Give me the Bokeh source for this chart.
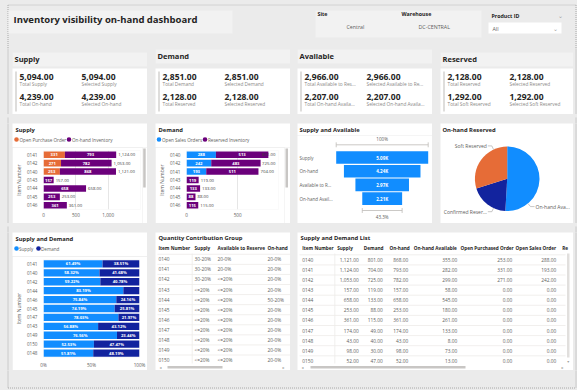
import math
from bokeh.plotting import figure
from bokeh.models import (Range1d, FactorRange, Spacer, ColumnDataSource, FixedTicker, NumeralTickFormatter)
from bokeh.layouts import column, row
from bokeh.core.properties import value
from bokeh.embed import file_html
from bokeh.resources import INLINE

FONT = "Open Sans"
PAGE_BG = "#EBEBEB"
PANEL_BG = "#F2F2F2"
DARK = "#252423"
GRAY = "#605E5C"
SOFT = "#8A8886"
LIGHT = "#A19F9D"
BORDER = "#A8A8A8"
SCROLL = "#C8C6C4"
ORANGE = "#E66C37"
PURPLE = "#6B007B"
BLUE = "#118DFF"
NAVY = "#12239E"
GRID = "#E6E6E6"
SEP = "#EDEBE9"

# ---------------- data ----------------
dashboard_title = "Inventory visibility on-hand dashboard"
slicer_names = ["Site", "Warehouse", "Product ID"]
slicer_values = ["Central", "DC-CENTRAL", "All"]

kpi_groups = ["Supply", "Demand", "Available", "Reserved"]
kpi_supply = [5094.0, 5094.0, 4239.0, 4239.0]
kpi_demand = [2851.0, 2851.0, 2128.0, 2128.0]
kpi_available = [2966.0, 2966.0, 2207.0, 2207.0]
kpi_reserved = [2128.0, 2128.0, 1292.0, 1292.0]
kpi_supply_labels = ["Total Supply", "Selected Supply", "Total On-hand", "Selected On-hand"]
kpi_demand_labels = ["Total Demand", "Selected Demand", "Total Reserved", "Selected Reserved"]
kpi_available_labels = ["Total Available to Res...", "Selected Available to Re...",
                        "Total On-hand Availa...", "Selected On-hand Availa..."]
kpi_reserved_labels = ["Total Reserved", "Selected Reserved", "Total Soft Reserved", "Selected Soft Reserved"]

items = ["0140", "0141", "0142", "0143", "0144", "0145", "0146", "0147", "0148", "0149", "0150"]
supply = [1121, 1124, 1053, 157, 658, 253, 361, 174, 43, 98, 52]
demand = [801, 704, 725, 119, 133, 88, 115, 49, 40, 30, 47]
on_hand = [868, 793, 782, 157, 658, 253, 361, 174, 43, 98, 52]
on_hand_available = [355, 282, 299, 58, 545, 180, 261, 133, 8, 73, 13]
open_purchase_order = [253, 331, 271, 0, 0, 0, 0, 0, 0, 0, 0]
open_sales_order = [288, 193, 242, 0, 0, 0, 0, 0, 0, 0, 0]
reserved_inventory = [513, 511, 483, 119, 133, 88, 115, 49, 40, 30, 47]

supply_chart_items = ["0141", "0142", "0140", "0143", "0144", "0145", "0146"]
demand_chart_items = ["0140", "0142", "0141", "0143", "0144", "0145", "0146"]
sd_chart_items = ["0141", "0140", "0142", "0144", "0146", "0145", "0147", "0143", "0149", "0150", "0148"]

funnel_stages = ["Supply", "On-hand", "Available to R...", "On-hand Avail..."]
funnel_values = [5094, 4239, 2966, 2207]

pie_labels = ["On-hand Ava...", "Confirmed Reser...", "Soft Reserved"]
pie_values = [2207, 836, 1292]
pie_label_angles = [140, 205, 335]

qc_supply = ["30-20%", "30-20%", "30-20%", "<=20%", "<=20%", "<=20%", "<=20%", "<=20%", "<=20%", "<=20%", "<=20%"]
qc_available = ["20-0%", "20-0%", "<=20%", "<=20%", "<=20%", "<=20%", "<=20%", "<=20%", "<=20%", "<=20%", "<=20%"]
qc_on_hand = ["20-0%", "20-0%", "20-0%", "20-0%", "50-20%", "20-0%", "20-0%", "20-0%", "20-0%", "20-0%", "20-0%"]

idx = {it: i for i, it in enumerate(items)}


def nfmt(v):
    return f"{v:,.2f}"


def pix_fig(w, h, bg="white"):
    p = figure(width=w, height=h, x_range=Range1d(0, w), y_range=Range1d(h, 0),
               output_backend="svg", toolbar_location=None, min_border=0,
               x_axis_type=None, y_axis_type=None, frame_align=False)
    p.outline_line_color = None
    p.background_fill_color = bg
    p.border_fill_color = bg
    return p


def put(p, x, y, t, size, color=DARK, bold=False, align="left", font=FONT, baseline="middle", **kw):
    lists = [v for v in (x, y, t) if isinstance(v, (list, tuple))]
    n = len(lists[0]) if lists else 1
    xs = list(x) if isinstance(x, (list, tuple)) else [x] * n
    ys = list(y) if isinstance(y, (list, tuple)) else [y] * n
    ts = list(t) if isinstance(t, (list, tuple)) else [t] * n
    p.text(x=xs, y=ys, text=ts, text_font=value(font), text_font_size=f"{size}px",
           text_color=color, text_align=align, text_baseline=baseline,
           text_font_style="bold" if bold else "normal", **kw)


def dotted_v(p, xs, y0, y1):
    p.segment(x0=xs, x1=xs, y0=[y0] * len(xs), y1=[y1] * len(xs),
              line_color=BORDER, line_dash="1 1", line_width=1)


def style_axes(p):
    p.outline_line_color = None
    p.border_fill_color = "white"
    p.background_fill_color = "white"
    for ax in p.axis:
        ax.axis_line_color = None
        ax.major_tick_line_color = None
        ax.minor_tick_line_color = None
        ax.major_tick_out = 0
        ax.major_tick_in = 0
        ax.minor_tick_out = 0
        ax.minor_tick_in = 0
        ax.major_label_text_font = FONT
        ax.major_label_text_font_size = "4.6px"
        ax.major_label_text_color = GRAY
    p.xaxis.major_label_standoff = 3
    p.yaxis.major_label_standoff = 6
    p.yaxis.axis_label = "Item Number"
    p.yaxis.axis_label_text_font = FONT
    p.yaxis.axis_label_text_font_size = "5px"
    p.yaxis.axis_label_text_font_style = "normal"
    p.yaxis.axis_label_text_color = GRAY
    p.yaxis.axis_label_standoff = 2
    p.ygrid.grid_line_color = None
    p.xgrid.grid_line_color = GRID


def legend_head(w, title, names, colors, dot_x, text_x):
    head = pix_fig(w, 24)
    put(head, 3, 6, title, 5.8, DARK, bold=True)
    head.scatter(x=dot_x, y=[16] * len(names), size=4.6, fill_color=colors, line_color=None)
    put(head, text_x, [16] * len(names), names, 4.6, GRAY)
    return head


def stacked_card(w, title, names, colors, cats, a, b, xmax, ticks, mb_right, sw, sx, dot_x, text_x):
    head = legend_head(w, title, names, colors, dot_x, text_x)
    p = figure(width=w - sw, height=76, x_range=Range1d(0, xmax), y_range=FactorRange(factors=cats[::-1]),
               output_backend="svg", toolbar_location=None, frame_align=False,
               min_border_left=26, min_border_right=mb_right, min_border_top=3, min_border_bottom=14)
    style_axes(p)
    p.xaxis.ticker = FixedTicker(ticks=ticks)
    p.xaxis.formatter = NumeralTickFormatter(format="0,0")
    tot = [va + vb for va, vb in zip(a, b)]
    src = ColumnDataSource(dict(cat=cats, a=a, tot=tot))
    p.hbar(y="cat", left=0, right="a", height=0.78, source=src, fill_color=colors[0], line_color=None)
    p.hbar(y="cat", left="a", right="tot", height=0.78, source=src, fill_color=colors[1], line_color=None)
    lx, ly, lt = [], [], []
    for c, va, vb in zip(cats, a, b):
        if va > 0:
            lx.append(va / 2); ly.append(c); lt.append(f"{va:,.0f}")
        if vb > 0:
            lx.append(va + vb / 2); ly.append(c); lt.append(f"{vb:,.0f}")
    put(p, lx, ly, lt, 4.2, "white", bold=True, align="center")
    # total labels, kept inside the plot area
    put(p, [min(t, xmax * 0.8) for t in tot], cats, [nfmt(t) for t in tot], 4.3, "#3B3A39", x_offset=2)
    # vertical scroll bar of the visual
    sf = pix_fig(sw, 76)
    sf.quad(left=[sx], right=[sx + 2.5], top=[1], bottom=[40], fill_color=SCROLL, line_color=None)
    return column(head, row(p, sf))


PAGE_W = 577
col_w = [135, 135, 135, 133]

# ---------------- header ----------------
hd = pix_fig(PAGE_W, 48, PAGE_BG)
hd.segment(x0=[7.5], x1=[575.5], y0=[4.5], y1=[4.5], line_color="#D2D2D2", line_width=1)
dotted_v(hd, [7.5, 575.5], 4.5, 48)
hd.quad(left=[8], right=[232], top=[10], bottom=[33], fill_color=PANEL_BG, line_color=None)
put(hd, 13, 19, dashboard_title, 9.5, DARK, bold=True)
hd.quad(left=[315], right=[481], top=[10], bottom=[37], fill_color=PANEL_BG, line_color=None)
put(hd, [317, 401], [13, 13], slicer_names[:2], 5.3, DARK, bold=True)
put(hd, [346, 418], [26, 26], slicer_values[:2], 5.3, GRAY)
put(hd, 491, 15, slicer_names[2], 5.3, DARK, bold=True)
hd.quad(left=[488], right=[561], top=[22], bottom=[33], fill_color="white", line_color=None)
put(hd, 492, 28, slicer_values[2], 5.3, GRAY)
put(hd, [560, 555], [15, 28], ["\u2304", "\u2304"], 6, LIGHT, font="DejaVu Sans", align="center")

# ---------------- KPI cards ----------------
kpi_values = [kpi_supply, kpi_demand, kpi_available, kpi_reserved]
kpi_labels = [kpi_supply_labels, kpi_demand_labels, kpi_available_labels, kpi_reserved_labels]
kpi_title_y = [10, 7, 7, 10]
kpi_cols = []
for g in range(4):
    w = col_w[g]
    lf = pix_fig(w, 20, PAGE_BG)
    ty = kpi_title_y[g]
    lf.quad(left=[0], right=[w], top=[ty - 6], bottom=[ty + 8], fill_color=PANEL_BG, line_color=None)
    put(lf, 2, ty, kpi_groups[g], 7.5, DARK, bold=True)
    cf = pix_fig(w, 46)
    cf.segment(x0=[3.5], y0=[3], x1=[3.5], y1=[43], line_color="#C8C6C4", line_width=1.2)
    xs = [7, 69, 7, 69]
    put(cf, xs, [8, 8, 28, 28], [nfmt(v) for v in kpi_values[g]], 8.5, DARK, bold=True)
    put(cf, xs, [15.5, 15.5, 35.5, 35.5], kpi_labels[g], 4.8, SOFT)
    kpi_cols.append(column(lf, cf))

# ---------------- Supply / Demand bar charts ----------------
si = [idx[c] for c in supply_chart_items]
supply_card = stacked_card(135, "Supply", ["Open Purchase Order", "On-hand Inventory"], [ORANGE, PURPLE],
                           supply_chart_items, [open_purchase_order[i] for i in si], [on_hand[i] for i in si],
                           1500, [0, 500, 1000], 2, 5, 0.7, [4, 56.5], [7, 59.5])
di = [idx[c] for c in demand_chart_items]
demand_card = stacked_card(135, "Demand", ["Open Sales Orders", "Reserved Inventory"], [BLUE, PURPLE],
                           demand_chart_items, [open_sales_order[i] for i in di], [reserved_inventory[i] for i in di],
                           900, [0, 500], 6, 6, 1.0, [3.5, 49.5], [6.5, 52.5])

# ---------------- funnel ----------------
fh = pix_fig(135, 12)
put(fh, 2, 6, "Supply and Available", 5.8, DARK, bold=True)
ff = figure(width=135, height=88, x_range=Range1d(-4690, 2785), y_range=Range1d(4.818, -1.606),
            output_backend="svg", toolbar_location=None, min_border=0, x_axis_type=None, y_axis_type=None,
            frame_align=False)
ff.outline_line_color = None
stage_y = list(range(len(funnel_values)))
ff.hbar(y=stage_y, left=[-v / 2 for v in funnel_values], right=[v / 2 for v in funnel_values],
        height=0.92, fill_color=BLUE, line_color=None)
put(ff, [0] * len(funnel_values), stage_y, [f"{v / 1000:.2f}K" for v in funnel_values], 4.5, "white",
    bold=True, align="center")
put(ff, [-4690] * len(funnel_stages), stage_y, funnel_stages, 4.5, GRAY, x_offset=2)
v0, vl = funnel_values[0], funnel_values[-1]
ty_top, ty_bot = -0.927, 3.869
ff.segment(x0=[-v0 / 2, -v0 / 2, v0 / 2], y0=[ty_top, ty_top - 0.18, ty_top - 0.18],
           x1=[v0 / 2, -v0 / 2, v0 / 2], y1=[ty_top, ty_top + 0.18, ty_top + 0.18],
           line_color="#BEBBB8", line_width=0.8)
ff.segment(x0=[-vl / 2, -vl / 2, vl / 2], y0=[ty_bot, ty_bot - 0.18, ty_bot - 0.18],
           x1=[vl / 2, -vl / 2, vl / 2], y1=[ty_bot, ty_bot + 0.18, ty_bot + 0.18],
           line_color="#BEBBB8", line_width=0.8)
put(ff, [0, 0], [-1.387, 4.358], [f"{v0 / v0:.0%}", f"{vl / v0:.1%}"], 4.6, GRAY, align="center")
funnel_card = column(fh, ff)

# ---------------- pie ----------------
pf = figure(width=133, height=100, x_range=Range1d(-66.7, 66.3), y_range=Range1d(-44.7, 55.3),
            output_backend="svg", toolbar_location=None, min_border=0, x_axis_type=None, y_axis_type=None,
            frame_align=False)
pf.outline_line_color = None
put(pf, -64.7, 49.3, "On-hand Reserved", 5.8, DARK, bold=True)
R = 32.3
total = sum(pie_values)
starts, ends, acc = [], [], 0.0
for v in pie_values:
    starts.append(math.pi / 2 - 2 * math.pi * acc / total)
    acc += v
    ends.append(math.pi / 2 - 2 * math.pi * acc / total)
pf.wedge(x=0, y=0, radius=R, start_angle=starts, end_angle=ends, direction="clock",
         fill_color=[BLUE, NAVY, ORANGE], line_color=None)
lxs, lys = [], []
for lab, a in zip(pie_labels, pie_label_angles):
    s, c = math.sin(math.radians(a)), math.cos(math.radians(a))
    ex, ey = R * s, R * c
    mx, my = (R + 4) * s, (R + 4) * c
    sign = 1 if s > 0 else -1
    tx = mx + sign * 4
    lxs.append([ex, mx, tx]); lys.append([ey, my, my])
    put(pf, tx + sign * 1, my, lab, 5, GRAY, align="left" if sign > 0 else "right")
pf.multi_line(xs=lxs, ys=lys, line_color=LIGHT, line_width=0.6)

# ---------------- Supply and Demand 100% ----------------
sdh = legend_head(135, "Supply and Demand", ["Supply", "Demand"], [BLUE, NAVY], [4, 26], [6.5, 28.5])
sdi = [idx[c] for c in sd_chart_items]
s_share = [supply[i] / (supply[i] + demand[i]) for i in sdi]
d_share = [demand[i] / (supply[i] + demand[i]) for i in sdi]
sdp = figure(width=135, height=114, x_range=Range1d(0, 1), y_range=FactorRange(factors=sd_chart_items[::-1]),
             output_backend="svg", toolbar_location=None, frame_align=False,
             min_border_left=26, min_border_right=8, min_border_top=3, min_border_bottom=13)
style_axes(sdp)
sdp.xgrid.grid_line_color = None
sdp.xaxis.ticker = FixedTicker(ticks=[0, 0.5, 1])
sdp.xaxis.formatter = NumeralTickFormatter(format="0%")
sdp.xaxis.major_label_standoff = 4
sd_src = ColumnDataSource(dict(cat=sd_chart_items, s=s_share, one=[s + d for s, d in zip(s_share, d_share)]))
sdp.hbar(y="cat", left=0, right="s", height=0.82, source=sd_src, fill_color=BLUE, line_color=None)
sdp.hbar(y="cat", left="s", right="one", height=0.82, source=sd_src, fill_color=NAVY, line_color=None)
put(sdp, [s / 2 for s in s_share], sd_chart_items, [f"{s * 100:.2f}%" for s in s_share], 4.2, "white",
    bold=True, align="center")
dl = [(s + d / 2, c, f"{d * 100:.2f}%") for s, d, c in zip(s_share, d_share, sd_chart_items) if d >= 0.2]
put(sdp, [t[0] for t in dl], [t[1] for t in dl], [t[2] for t in dl], 4.2, "white", bold=True, align="center")
sd_card = column(sdh, sdp)

# ---------------- Quantity Contribution Group table ----------------
qt = pix_fig(135, 138)
put(qt, 3, 5, "Quantity Contribution Group", 5.8, DARK, bold=True)
qc_x = [3, 39, 62, 112]
put(qt, qc_x, [15] * 4, ["Item Number", "Supply", "Available to Reserve", "On-hand"], 4.7, DARK, bold=True)
ry = [26.8 + 10.07 * i for i in range(len(items))]
qt.segment(x0=[2] * len(items), x1=[135] * len(items), y0=[y - 5 for y in ry], y1=[y - 5 for y in ry],
           line_color=SEP, line_width=0.8)
qt.segment(x0=[36.7], x1=[36.7], y0=[21], y1=[131], line_color=SEP, line_width=0.8)
put(qt, [qc_x[0]] * len(items), ry, items, 4.8, GRAY)
put(qt, [qc_x[1]] * len(items), ry, qc_supply, 4.8, GRAY)
put(qt, [qc_x[2]] * len(items), ry, qc_available, 4.8, GRAY)
put(qt, [qc_x[3]] * len(items), ry, qc_on_hand, 4.8, GRAY)
qt.quad(left=[12], right=[67], top=[133.6], bottom=[136], fill_color=SCROLL, line_color=None)
put(qt, [5, 128], [134.8, 134.8], ["\u25c2", "\u25b8"], 4, LIGHT, font="DejaVu Sans", align="center")

# ---------------- Supply and Demand List table ----------------
lt = pix_fig(276, 138)
put(lt, 3, 5, "Supply and Demand List", 5.8, DARK, bold=True)
hdr_x = [4.7, 39.7, 66.3, 92, 116.3, 163, 218, 264.7]
hdr = ["Item Number", "Supply", "Demand", "On-hand", "On-hand Available", "Open Purchased Order",
       "Open Sales Order", "Re"]
put(lt, hdr_x, [15.7] * len(hdr), hdr, 4.7, DARK, bold=True)
ly = [27.3 + 10.1 * i for i in range(len(items))]
lt.segment(x0=[2] * len(items), x1=[268] * len(items), y0=[y - 5 for y in ly], y1=[y - 5 for y in ly],
           line_color=SEP, line_width=0.8)
lt.segment(x0=[37.3], x1=[37.3], y0=[21], y1=[131], line_color=SEP, line_width=0.8)
put(lt, [4.7] * len(items), ly, items, 4.8, GRAY)
val_right = [61.3, 85.3, 110.7, 159.7, 214.7, 258.7]
for xr, col in zip(val_right, [supply, demand, on_hand, on_hand_available, open_purchase_order, open_sales_order]):
    put(lt, [xr] * len(items), ly, [nfmt(v) for v in col], 4.8, GRAY, align="right")
lt.quad(left=[269.5], right=[272], top=[21], bottom=[125], fill_color="#E1DFDD", line_color=None)
put(lt, [270.7], [129], ["\u25be"], 4, LIGHT, font="DejaVu Sans", align="center")
lt.quad(left=[13], right=[168], top=[133.6], bottom=[136], fill_color=SCROLL, line_color=None)
put(lt, [5, 265], [134.8, 134.8], ["\u25c2", "\u25b8"], 4, LIGHT, font="DejaVu Sans", align="center")


# ---------------- layout ----------------
def left_edge(h):
    f = pix_fig(12, h, PAGE_BG)
    dotted_v(f, [7.5], 0, h)
    return f


def right_edge(h):
    f = pix_fig(4, h, PAGE_BG)
    dotted_v(f, [2.5], 0, h)
    return f


def gap_row(h):
    f = pix_fig(PAGE_W, h, PAGE_BG)
    dotted_v(f, [7.5, 575.5], 0, h)
    return f


def hs(w):
    return Spacer(width=w, height=1)


bottom_strip = pix_fig(PAGE_W, 20, PAGE_BG)
dotted_v(bottom_strip, [7.5, 575.5], 0, 17.5)
bottom_strip.segment(x0=[7.5], x1=[575.5], y0=[17.5], y1=[17.5], line_color=BORDER, line_dash="1 1", line_width=1)

kpi_row = row(left_edge(66), kpi_cols[0], hs(8), kpi_cols[1], hs(7), kpi_cols[2], hs(8), kpi_cols[3],
              right_edge(66))
chart_row = row(left_edge(100), supply_card, hs(8), demand_card, hs(7), funnel_card, hs(8), pf, right_edge(100))
bottom_row = row(left_edge(138), sd_card, hs(8), qt, hs(7), lt, right_edge(138))
page = column(hd, kpi_row, gap_row(9), chart_row, gap_row(9), bottom_row, bottom_strip,
              styles={"background-color": PAGE_BG})

open("out.html", "w").write(file_html(page, INLINE))
